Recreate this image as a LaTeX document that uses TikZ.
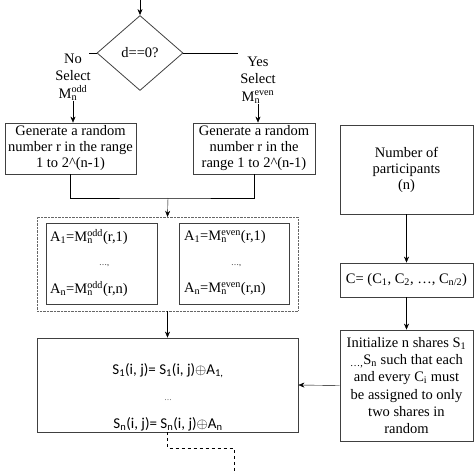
\documentclass[tikz,border=0pt]{standalone}
\usepackage{fontspec}
\setmainfont{Liberation Serif}
\newfontfamily\calib{Carlito}
\usetikzlibrary{shapes.geometric,arrows.meta}
\newcommand{\Mn}[1]{M\rlap{\textsubscript{n}}\textsuperscript{#1}}
\begin{document}
\begin{tikzpicture}[x=1pt,y=-1pt,>={Stealth[length=6pt,width=5pt]},
  box/.style={draw=black!75,line width=.8pt,inner sep=1pt,align=center,font=\fontsize{14.5}{16}\selectfont},
  lbl/.style={align=center,inner sep=0,font=\fontsize{14.5}{17.5}\selectfont},
  itxt/.style={inner sep=0,font=\fontsize{14.5}{16}\selectfont}]
\useasboundingbox (0,0) rectangle (474,474);
\coordinate (start) at (140,0);
\node[box,diamond,minimum width=86pt,minimum height=75pt,inner sep=0] (dec) at (140,53) {d==0?};
\draw[->] (start)--(dec.north);
\coordinate (nostub) at (89,53);
\coordinate (yesend) at (238,53);
\draw (dec.west)--(nostub);
\draw (dec.east)--(yesend);
\node[lbl] (nolbl) at (73,77) {No\\Select\\\Mn{odd}};
\node[lbl] (yeslbl) at (258,80) {Yes\\Select\\\Mn{even}};

\node[box,minimum width=131pt,minimum height=51pt] (genl) at (70.5,148.5) {Generate a random\\number r in the range\\1 to 2\^{}(n-1)};
\node[box,minimum width=122pt,minimum height=51pt] (genr) at (254,148.5) {Generate a random\\number r in the\\range 1 to 2\^{}(n-1)};
\draw[->] (nolbl.south)--(nolbl.south|-genl.north);
\draw[->] (yeslbl.south)--(yeslbl.south|-genr.north);

\coordinate (merge) at (168,198);
\node[draw=black!60,densely dotted,minimum width=261pt,minimum height=94pt] (abox) at (167.5,264) {};
\draw (genl.south)|-(merge)-|(genr.south);
\draw[->] (merge)--(abox.north);
\node[box,minimum width=111pt,minimum height=81pt] (aodd) at (101.5,263.5) {};
\node[box,minimum width=110pt,minimum height=81pt] (aeven) at (234,263.5) {};
\node[itxt,anchor=west] (a1odd) at (50,237) {A\textsubscript{1}=\Mn{odd}(r,1)};
\node[itxt,font=\fontsize{8}{9}\selectfont] (dotsodd) at (104,266) {\ldots,};
\node[itxt,anchor=west] (anodd) at (50,289) {A\textsubscript{n}=\Mn{odd}(r,n)};
\node[itxt,anchor=west] (a1even) at (184,237) {A\textsubscript{1}=\Mn{even}(r,1)};
\node[itxt,font=\fontsize{8}{9}\selectfont] (dotseven) at (236,266) {\ldots,};
\node[itxt,anchor=west] (aneven) at (184,289) {A\textsubscript{n}=\Mn{even}(r,n)};

\node[box,minimum width=261pt,minimum height=94pt] (sbox) at (167.5,385) {};
\draw[->] (abox.south)--(sbox.north);
\node[itxt,font=\calib\fontsize{15}{16}\selectfont] (s1) at (168,371) {S\textsubscript{1}(i, j)= S\textsubscript{1}(i, j)$\oplus$A\textsubscript{1,}};
\node[itxt,font=\fontsize{7}{8}\selectfont] (sdots) at (168,400) {\ldots};
\node[itxt,font=\calib\fontsize{15}{16}\selectfont] (sn) at (168,424) {S\textsubscript{n}(i, j)= S\textsubscript{n}(i, j)$\oplus$A\textsubscript{n}};
\coordinate (dashend) at (234,474);
\draw[dashed,line width=.9pt] (sbox.south)--++(0,16)-|(dashend);

\node[box,minimum width=133pt,minimum height=89pt] (part) at (406.5,169.5) {Number of\\participants\\(n)};
\node[box,minimum width=133pt,minimum height=34pt] (cbox) at (406.5,280) {C= (C\textsubscript{1}, C\textsubscript{2}, \ldots, C\textsubscript{n/2})};
\node[box,minimum width=133pt,minimum height=111pt,font=\fontsize{14.5}{17.3}\selectfont] (init) at (406.5,385.5) {Initialize n shares S\textsubscript{1}\\\textsubscript{\ldots,}S\textsubscript{n}  such that each\\and every C\textsubscript{i} must\\be assigned to only\\two shares in\\random};
\draw[->] (part)--(cbox);
\draw[->] (cbox)--(init);
\draw[->] (init.west)--(sbox.east);
\end{tikzpicture}
\end{document}
